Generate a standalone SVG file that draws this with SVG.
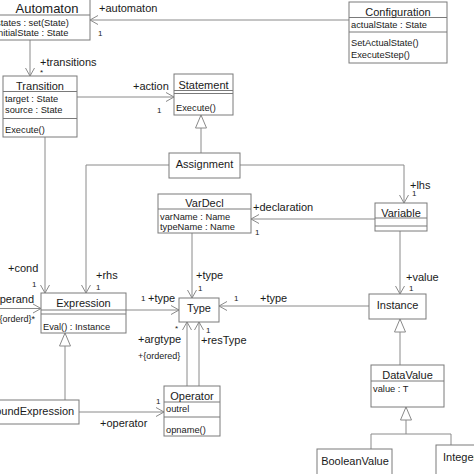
<svg xmlns="http://www.w3.org/2000/svg" width="474" height="474" viewBox="0 0 474 474">
<style>
.box{fill:#fff;stroke:#7a7a7a;stroke-width:1}
.sep{stroke:#7a7a7a;stroke-width:1}
.ln{fill:none;stroke:#8a8a8a;stroke-width:1}
text{font-family:"Liberation Sans",Arial,sans-serif;fill:#1a1a1a}
.t{font-size:11px;text-anchor:middle}
.a{font-size:9.3px}
.r{font-size:11px}
.m{font-size:8px}
.s{font-size:9px}
</style>
<defs>
<marker id="open" markerUnits="userSpaceOnUse" markerWidth="12" markerHeight="12" refX="0" refY="0" viewBox="-10 -6 12 12" orient="auto">
<path d="M -8 -4.5 L 0 0 L -8 4.5" fill="none" stroke="#8a8a8a" stroke-width="1"/>
</marker>
<marker id="gen" markerUnits="userSpaceOnUse" markerWidth="16" markerHeight="14" refX="0" refY="0" viewBox="-15 -7 16 14" orient="auto">
<path d="M 0 0 L -13 -5.5 L -13 5.5 Z" fill="#fff" stroke="#8a8a8a" stroke-width="1"/>
</marker>
</defs>
<rect width="474" height="474" fill="#fff"/>

<g id="connectors">
<path class="ln" d="M 349 20 L 90 20" marker-end="url(#open)"/>
<path class="ln" d="M 30 40 L 30 76" marker-end="url(#open)"/>
<path class="ln" d="M 77 97 L 174 97" marker-end="url(#open)"/>
<path class="ln" d="M 201 153 L 201 115" marker-end="url(#gen)"/>
<path class="ln" d="M 169 165 L 86 165 L 86 293" marker-end="url(#open)"/>
<path class="ln" d="M 45 137 L 45 293" marker-end="url(#open)"/>
<path class="ln" d="M 240 165 L 404 165 L 404 203" marker-end="url(#open)"/>
<path class="ln" d="M 375 219 L 251 219" marker-end="url(#open)"/>
<path class="ln" d="M 192 233 L 192 298" marker-end="url(#open)"/>
<path class="ln" d="M 369 306 L 219 306" marker-end="url(#open)"/>
<path class="ln" d="M 126 310 L 179 310" marker-end="url(#open)"/>
<path class="ln" d="M -5 308.5 L 41 308.5" marker-end="url(#open)"/>
<path class="ln" d="M 65 400 L 65 333" marker-end="url(#gen)"/>
<path class="ln" d="M 79 412 L 164 412" marker-end="url(#open)"/>
<path class="ln" d="M 187 386 L 187 322" marker-end="url(#open)"/>
<path class="ln" d="M 199 386 L 199 322" marker-end="url(#open)"/>
<path class="ln" d="M 400 231 L 400 294" marker-end="url(#open)"/>
<path class="ln" d="M 400 365 L 400 319" marker-end="url(#gen)"/>
<path class="ln" d="M 406 434 L 406 407" marker-end="url(#gen)"/>
<path class="ln" d="M 371 449 L 371 434 L 451 434 L 451 445"/>

<text class="r" x="99" y="12">+automaton</text>
<text class="m" x="98" y="36">1</text>
<text class="r" x="40" y="66">+transitions</text>
<text class="m" x="40" y="75">*</text>
<text class="r" x="133" y="90">+action</text>
<text class="m" x="157" y="113">1</text>
<text class="r" x="8" y="272">+cond</text>
<text class="m" x="32" y="287">1</text>
<text class="r" x="96" y="279">+rhs</text>
<text class="m" x="96" y="290">1</text>
<text class="r" x="410" y="189">+lhs</text>
<text class="m" x="412" y="196">1</text>
<text class="r" x="253" y="211">+declaration</text>
<text class="m" x="255" y="235">1</text>
<text class="r" x="196" y="279">+type</text>
<text class="m" x="198" y="291">1</text>
<text class="m" x="234" y="301">1</text>
<text class="r" x="260" y="302">+type</text>
<text class="m" x="141" y="301">1</text>
<text class="r" x="148" y="302">+type</text>
<text class="r" x="34" y="303" text-anchor="end">+operand</text>
<text class="s" x="35" y="321.5" text-anchor="end">+{orderd}*</text>
<text class="m" x="156" y="404">1</text>
<text class="r" x="100" y="427">+operator</text>
<text class="m" x="175" y="331">*</text>
<text class="r" x="138" y="343">+argtype</text>
<text class="s" x="138" y="359">+{ordered}</text>
<text class="m" x="206" y="333">1</text>
<text class="r" x="201" y="344">+resType</text>
<text class="r" x="406" y="281">+value</text>
<text class="m" x="409" y="291">1</text>
</g>

<g id="Automaton">
<rect class="box" x="-6" y="-3" width="96" height="43"/>
<line class="sep" x1="-6" y1="15" x2="90" y2="15"/>
<text class="t" x="47" y="13" style="font-size:13px">Automaton</text>
<text class="a" x="-4" y="26">states : set(State)</text>
<text class="a" x="-4" y="36">initialState : State</text>
</g>

<g id="Configuration">
<rect class="box" x="349" y="2" width="98" height="61"/>
<line class="sep" x1="349" y1="17.5" x2="447" y2="17.5"/>
<line class="sep" x1="349" y1="32" x2="447" y2="32"/>
<text class="t" x="398" y="16">Configuration</text>
<text class="a" x="351" y="27.5">actualState : State</text>
<text class="a" x="351" y="46">SetActualState()</text>
<text class="a" x="351" y="58">ExecuteStep()</text>
</g>

<g id="Transition">
<rect class="box" x="3" y="76" width="74" height="61"/>
<line class="sep" x1="3" y1="91.5" x2="77" y2="91.5"/>
<line class="sep" x1="3" y1="118.5" x2="77" y2="118.5"/>
<text class="t" x="40" y="89.5">Transition</text>
<text class="a" x="5" y="102">target : State</text>
<text class="a" x="5" y="112.5">source : State</text>
<text class="a" x="5" y="133">Execute()</text>
</g>

<g id="Statement">
<rect class="box" x="174" y="74" width="59" height="41"/>
<line class="sep" x1="174" y1="90.5" x2="233" y2="90.5"/>
<line class="sep" x1="174" y1="93.5" x2="233" y2="93.5"/>
<text class="t" x="203.5" y="88.5">Statement</text>
<text class="a" x="176" y="111">Execute()</text>
</g>

<g id="Assignment">
<rect class="box" x="169" y="153" width="71" height="25"/>
<text class="t" x="204.5" y="167.5">Assignment</text>
</g>

<g id="VarDecl">
<rect class="box" x="158" y="194" width="93" height="39"/>
<line class="sep" x1="158" y1="209" x2="251" y2="209"/>
<text class="t" x="204.5" y="207">VarDecl</text>
<text class="a" x="160" y="219.5">varName : Name</text>
<text class="a" x="160" y="230">typeName : Name</text>
</g>

<g id="Variable">
<rect class="box" x="375" y="203" width="52" height="28"/>
<line class="sep" x1="375" y1="218" x2="427" y2="218"/>
<line class="sep" x1="375" y1="226" x2="427" y2="226"/>
<text class="t" x="401" y="216.5">Variable</text>
</g>

<g id="Expression">
<rect class="box" x="41" y="293" width="85" height="40"/>
<line class="sep" x1="41" y1="310" x2="126" y2="310"/>
<line class="sep" x1="41" y1="314" x2="126" y2="314"/>
<text class="t" x="83.5" y="307">Expression</text>
<text class="a" x="43" y="330">Eval() : Instance</text>
</g>

<g id="Type">
<rect class="box" x="179" y="298" width="40" height="24"/>
<text class="t" x="199" y="312">Type</text>
</g>

<g id="Instance">
<rect class="box" x="369" y="294" width="57" height="25"/>
<text class="t" x="397.5" y="309">Instance</text>
</g>

<g id="CompoundExpression">
<rect class="box" x="-38" y="400" width="117" height="24"/>
<text class="t" x="20" y="415">CompoundExpression</text>
</g>

<g id="Operator">
<rect class="box" x="164" y="386" width="56" height="50"/>
<line class="sep" x1="164" y1="402" x2="220" y2="402"/>
<line class="sep" x1="164" y1="417" x2="220" y2="417"/>
<text class="t" x="192" y="400">Operator</text>
<text class="a" x="166" y="412">outrel</text>
<text class="a" x="166" y="432.5">opname()</text>
</g>

<g id="DataValue">
<rect class="box" x="371" y="365" width="73" height="42"/>
<line class="sep" x1="371" y1="381" x2="444" y2="381"/>
<text class="t" x="407.5" y="379">DataValue</text>
<text class="a" x="373" y="392">value : T</text>
</g>

<g id="BooleanValue">
<rect class="box" x="317" y="449" width="75" height="35"/>
<text class="t" x="355" y="465">BooleanValue</text>
</g>

<g id="IntegerValue">
<rect class="box" x="436" y="445" width="60" height="40"/>
<text class="r" x="443" y="461">IntegerValue</text>
</g>
</svg>
